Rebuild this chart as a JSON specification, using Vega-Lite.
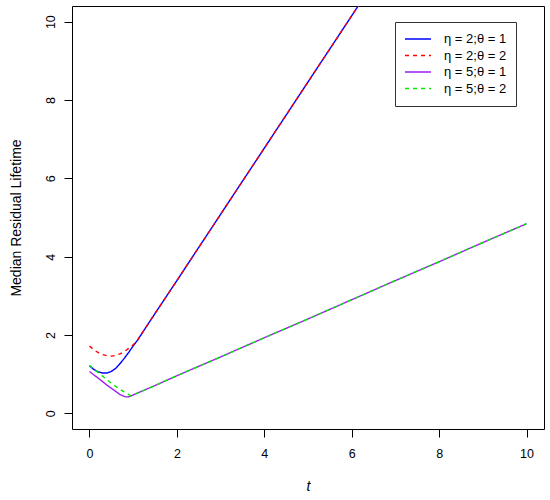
{
  "$schema": "https://vega.github.io/schema/vega-lite/v6.json",
  "width": 472,
  "height": 423,
  "autosize": {"type": "none"},
  "padding": {"left": 72, "top": 6, "right": 6, "bottom": 71},
  "background": "white",
  "data": {
    "values": [
      {"t": 0, "y": 1.21, "s": "η = 2;θ = 1"},
      {"t": 0.1, "y": 1.12, "s": "η = 2;θ = 1"},
      {"t": 0.2, "y": 1.06, "s": "η = 2;θ = 1"},
      {"t": 0.3, "y": 1.03, "s": "η = 2;θ = 1"},
      {"t": 0.4, "y": 1.03, "s": "η = 2;θ = 1"},
      {"t": 0.5, "y": 1.07, "s": "η = 2;θ = 1"},
      {"t": 0.6, "y": 1.15, "s": "η = 2;θ = 1"},
      {"t": 0.7, "y": 1.27, "s": "η = 2;θ = 1"},
      {"t": 0.8, "y": 1.41, "s": "η = 2;θ = 1"},
      {"t": 0.9, "y": 1.56, "s": "η = 2;θ = 1"},
      {"t": 1.0, "y": 1.72, "s": "η = 2;θ = 1"},
      {"t": 1.1, "y": 1.87, "s": "η = 2;θ = 1"},
      {"t": 1.2, "y": 2.04, "s": "η = 2;θ = 1"},
      {"t": 1.5, "y": 2.55, "s": "η = 2;θ = 1"},
      {"t": 2, "y": 3.39, "s": "η = 2;θ = 1"},
      {"t": 3, "y": 5.08, "s": "η = 2;θ = 1"},
      {"t": 4, "y": 6.77, "s": "η = 2;θ = 1"},
      {"t": 5, "y": 8.46, "s": "η = 2;θ = 1"},
      {"t": 6, "y": 10.15, "s": "η = 2;θ = 1"},
      {"t": 6.2, "y": 10.49, "s": "η = 2;θ = 1"},

      {"t": 0, "y": 1.72, "s": "η = 2;θ = 2"},
      {"t": 0.1, "y": 1.62, "s": "η = 2;θ = 2"},
      {"t": 0.2, "y": 1.55, "s": "η = 2;θ = 2"},
      {"t": 0.3, "y": 1.5, "s": "η = 2;θ = 2"},
      {"t": 0.4, "y": 1.47, "s": "η = 2;θ = 2"},
      {"t": 0.5, "y": 1.46, "s": "η = 2;θ = 2"},
      {"t": 0.6, "y": 1.48, "s": "η = 2;θ = 2"},
      {"t": 0.7, "y": 1.52, "s": "η = 2;θ = 2"},
      {"t": 0.8, "y": 1.58, "s": "η = 2;θ = 2"},
      {"t": 0.9, "y": 1.66, "s": "η = 2;θ = 2"},
      {"t": 1.0, "y": 1.75, "s": "η = 2;θ = 2"},
      {"t": 1.1, "y": 1.87, "s": "η = 2;θ = 2"},
      {"t": 1.2, "y": 2.04, "s": "η = 2;θ = 2"},
      {"t": 1.5, "y": 2.55, "s": "η = 2;θ = 2"},
      {"t": 2, "y": 3.39, "s": "η = 2;θ = 2"},
      {"t": 3, "y": 5.08, "s": "η = 2;θ = 2"},
      {"t": 4, "y": 6.77, "s": "η = 2;θ = 2"},
      {"t": 5, "y": 8.46, "s": "η = 2;θ = 2"},
      {"t": 6, "y": 10.15, "s": "η = 2;θ = 2"},
      {"t": 6.2, "y": 10.49, "s": "η = 2;θ = 2"},

      {"t": 0, "y": 1.07, "s": "η = 5;θ = 1"},
      {"t": 0.1, "y": 0.98, "s": "η = 5;θ = 1"},
      {"t": 0.2, "y": 0.9, "s": "η = 5;θ = 1"},
      {"t": 0.3, "y": 0.81, "s": "η = 5;θ = 1"},
      {"t": 0.4, "y": 0.72, "s": "η = 5;θ = 1"},
      {"t": 0.5, "y": 0.64, "s": "η = 5;θ = 1"},
      {"t": 0.6, "y": 0.56, "s": "η = 5;θ = 1"},
      {"t": 0.7, "y": 0.48, "s": "η = 5;θ = 1"},
      {"t": 0.8, "y": 0.43, "s": "η = 5;θ = 1"},
      {"t": 0.85, "y": 0.42, "s": "η = 5;θ = 1"},
      {"t": 0.9, "y": 0.425, "s": "η = 5;θ = 1"},
      {"t": 0.95, "y": 0.446, "s": "η = 5;θ = 1"},
      {"t": 1.0, "y": 0.47, "s": "η = 5;θ = 1"},
      {"t": 1.5, "y": 0.71, "s": "η = 5;θ = 1"},
      {"t": 2, "y": 0.96, "s": "η = 5;θ = 1"},
      {"t": 3, "y": 1.44, "s": "η = 5;θ = 1"},
      {"t": 4, "y": 1.93, "s": "η = 5;θ = 1"},
      {"t": 5, "y": 2.41, "s": "η = 5;θ = 1"},
      {"t": 6, "y": 2.9, "s": "η = 5;θ = 1"},
      {"t": 7, "y": 3.39, "s": "η = 5;θ = 1"},
      {"t": 8, "y": 3.87, "s": "η = 5;θ = 1"},
      {"t": 9, "y": 4.36, "s": "η = 5;θ = 1"},
      {"t": 10, "y": 4.84, "s": "η = 5;θ = 1"},

      {"t": 0, "y": 1.23, "s": "η = 5;θ = 2"},
      {"t": 0.1, "y": 1.13, "s": "η = 5;θ = 2"},
      {"t": 0.2, "y": 1.04, "s": "η = 5;θ = 2"},
      {"t": 0.3, "y": 0.95, "s": "η = 5;θ = 2"},
      {"t": 0.4, "y": 0.86, "s": "η = 5;θ = 2"},
      {"t": 0.5, "y": 0.77, "s": "η = 5;θ = 2"},
      {"t": 0.6, "y": 0.69, "s": "η = 5;θ = 2"},
      {"t": 0.7, "y": 0.61, "s": "η = 5;θ = 2"},
      {"t": 0.8, "y": 0.54, "s": "η = 5;θ = 2"},
      {"t": 0.9, "y": 0.48, "s": "η = 5;θ = 2"},
      {"t": 0.95, "y": 0.446, "s": "η = 5;θ = 2"},
      {"t": 1.0, "y": 0.47, "s": "η = 5;θ = 2"},
      {"t": 1.5, "y": 0.71, "s": "η = 5;θ = 2"},
      {"t": 2, "y": 0.96, "s": "η = 5;θ = 2"},
      {"t": 3, "y": 1.44, "s": "η = 5;θ = 2"},
      {"t": 4, "y": 1.93, "s": "η = 5;θ = 2"},
      {"t": 5, "y": 2.41, "s": "η = 5;θ = 2"},
      {"t": 6, "y": 2.9, "s": "η = 5;θ = 2"},
      {"t": 7, "y": 3.39, "s": "η = 5;θ = 2"},
      {"t": 8, "y": 3.87, "s": "η = 5;θ = 2"},
      {"t": 9, "y": 4.36, "s": "η = 5;θ = 2"},
      {"t": 10, "y": 4.84, "s": "η = 5;θ = 2"}
    ]
  },
  "mark": {"type": "line", "clip": true, "strokeWidth": 1.4},
  "encoding": {
    "x": {
      "field": "t", "type": "quantitative",
      "scale": {"domain": [-0.4, 10.4], "nice": false, "zero": false},
      "axis": {"values": [0, 2, 4, 6, 8, 10], "title": "t", "titleFontStyle": "italic", "titleFontWeight": "normal", "labelPadding": 10, "titlePadding": 20}
    },
    "y": {
      "field": "y", "type": "quantitative",
      "scale": {"domain": [-0.4, 10.4], "nice": false, "zero": false},
      "axis": {"values": [0, 2, 4, 6, 8, 10], "title": "Median Residual Lifetime", "titleFontWeight": "normal", "labelAngle": -90, "labelAlign": "center", "labelBaseline": "bottom", "labelPadding": 7, "titlePadding": 21}
    },
    "color": {
      "field": "s", "type": "nominal", "title": null,
      "sort": ["η = 2;θ = 1", "η = 2;θ = 2", "η = 5;θ = 1", "η = 5;θ = 2"],
      "scale": {"domain": ["η = 2;θ = 1", "η = 2;θ = 2", "η = 5;θ = 1", "η = 5;θ = 2"], "range": ["#0000FF", "#FF0000", "#A020F0", "#00EE00"]}
    },
    "strokeDash": {
      "field": "s", "type": "nominal", "title": null,
      "sort": ["η = 2;θ = 1", "η = 2;θ = 2", "η = 5;θ = 1", "η = 5;θ = 2"],
      "scale": {"domain": ["η = 2;θ = 1", "η = 2;θ = 2", "η = 5;θ = 1", "η = 5;θ = 2"], "range": [[1, 0], [4, 4], [1, 0], [4, 4]]}
    }
  },
  "config": {
    "font": "Liberation Sans",
    "view": {"stroke": "black", "strokeWidth": 1},
    "axis": {
      "grid": false, "domain": false, "tickColor": "black", "tickSize": 8,
      "labelFontSize": 12.5, "titleFontSize": 14, "labelColor": "black", "titleColor": "black",
      "labelFont": "Liberation Sans", "titleFont": "Liberation Sans"
    },
    "legend": {
      "orient": "none", "legendX": 323, "legendY": 16,
      "strokeColor": "#333", "fillColor": "white", "padding": 9,
      "symbolType": "stroke", "symbolSize": 676, "symbolStrokeWidth": 1.4,
      "clipHeight": 16, "rowPadding": 0.5,
      "labelFontSize": 13, "labelFont": "Liberation Sans", "labelColor": "black",
      "labelOffset": 12
    }
  }
}
